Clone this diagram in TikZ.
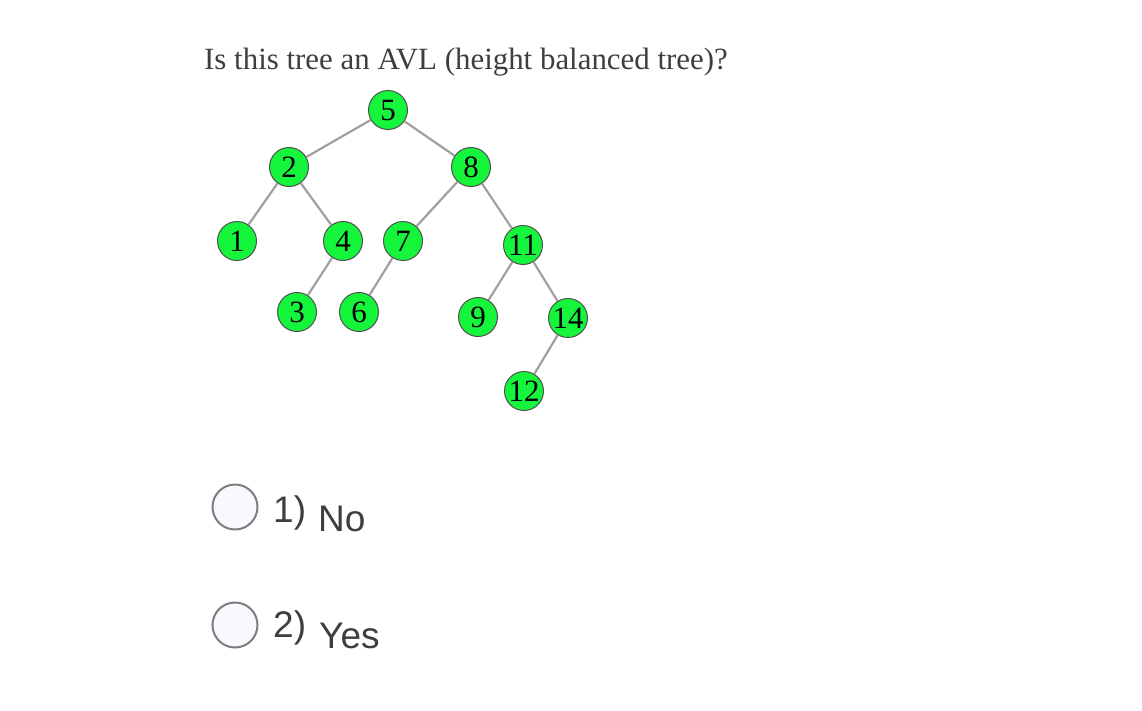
\documentclass[tikz,border=0pt]{standalone}
\usepackage{fontspec}
\setmainfont{Liberation Serif}
\newfontfamily\arialf{Liberation Sans}
\definecolor{txtgray}{RGB}{60,63,66}
\definecolor{nodegreen}{RGB}{20,245,60}
\definecolor{edgegray}{RGB}{160,160,160}
\definecolor{nodeborder}{RGB}{80,80,80}
\definecolor{radiofill}{RGB}{248,249,254}
\definecolor{radiodraw}{RGB}{125,125,125}
\begin{document}
\begin{tikzpicture}[x=1pt,y=-1pt,
  tnode/.style={circle,draw=nodeborder,line width=1pt,fill=nodegreen,minimum size=39pt,inner sep=0pt,font=\fontsize{31}{31}\selectfont},
  tedge/.style={draw=edgegray,line width=2.2pt},
  radio/.style={circle,draw=radiodraw,line width=2pt,fill=radiofill,minimum size=45pt,inner sep=0pt},
  anstext/.style={anchor=base west,inner sep=0pt,text=txtgray,font=\arialf\fontsize{37}{37}\selectfont}]
\useasboundingbox (0,0) rectangle (1142,710);
\node[anchor=base west,inner sep=0pt,text=txtgray,font=\fontsize{30.9}{30.9}\selectfont] (title) at (204,69) {Is this tree an AVL (height balanced tree)?};
% tree nodes
\node[tnode] (n5) at (388,110) {5};
\node[tnode] (n2) at (289,167) {2};
\node[tnode] (n8) at (471,167) {8};
\node[tnode] (n1) at (237,241) {1};
\node[tnode] (n4) at (343,241) {4};
\node[tnode] (n7) at (403,241) {7};
\node[tnode] (n11) at (523,245) {11};
\node[tnode] (n3) at (297,312) {3};
\node[tnode] (n6) at (359,312) {6};
\node[tnode] (n9) at (478,317) {9};
\node[tnode] (n14) at (568,318) {14};
\node[tnode] (n12) at (524,391) {12};
\draw[tedge] (n5) -- (n2);
\draw[tedge] (n5) -- (n8);
\draw[tedge] (n2) -- (n1);
\draw[tedge] (n2) -- (n4);
\draw[tedge] (n4) -- (n3);
\draw[tedge] (n8) -- (n7);
\draw[tedge] (n7) -- (n6);
\draw[tedge] (n8) -- (n11);
\draw[tedge] (n11) -- (n9);
\draw[tedge] (n11) -- (n14);
\draw[tedge] (n14) -- (n12);
% answers
\node[radio] (r1) at (235,507) {};
\node[radio] (r2) at (235,625) {};
\node[anstext] (a1n) at (273,522) {1)};
\node[anstext] (a1t) at (318,531.5) {No};
\node[anstext] (a2n) at (273,637) {2)};
\node[anstext] (a2t) at (319,648) {Yes};
\end{tikzpicture}
\end{document}
